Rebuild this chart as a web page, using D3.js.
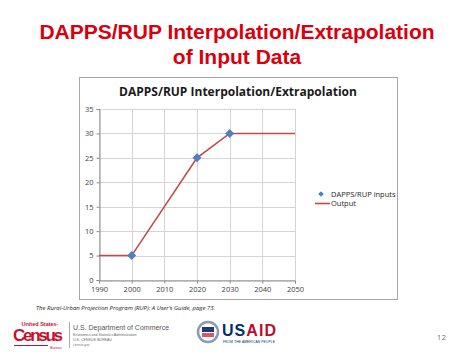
<!DOCTYPE html>
<html>
<head>
<meta charset="utf-8">
<script src="https://cdn.jsdelivr.net/npm/d3@7"></script>
<style>
  body{margin:0;background:#fff;}
  svg{display:block;}
</style>
</head>
<body>
<div id="chart"></div>
<script>
// data
const inputYears = [2000, 2020, 2030];
const inputValues = [5, 25, 30];
const outputYears = [1990, 2000, 2020, 2030, 2050];
const outputValues = [5, 5, 25, 30, 30];
const xTicks = [1990, 2000, 2010, 2020, 2030, 2040, 2050];
const yTicks = [0, 5, 10, 15, 20, 25, 30, 35];

const W = 474, H = 355;
const svg = d3.select("#chart").append("svg")
  .attr("width", W).attr("height", H);

// slide title
const title = svg.append("text")
  .attr("x", 237).attr("y", 0)
  .attr("text-anchor", "middle")
  .attr("font-family", "Liberation Sans, Arial, sans-serif")
  .attr("font-weight", "bold")
  .attr("font-size", "21px")
  .attr("fill", "#d8000e");
title.append("tspan").attr("x", 237).attr("y", 39).text("DAPPS/RUP Interpolation/Extrapolation");
title.append("tspan").attr("x", 237).attr("y", 64).text("of Input Data");

// chart frame
svg.append("rect")
  .attr("x", 79.5).attr("y", 77.5).attr("width", 318).attr("height", 222)
  .attr("fill", "#fff").attr("stroke", "#a6a6a6").attr("stroke-width", 1);

svg.append("text")
  .attr("x", 238).attr("y", 96)
  .attr("text-anchor", "middle")
  .attr("font-family", "Open Sans, sans-serif")
  .attr("font-weight", "bold")
  .attr("font-size", "12px")
  .attr("fill", "#1a1a1a")
  .text("DAPPS/RUP Interpolation/Extrapolation");

const x = d3.scaleLinear().domain([1990, 2050]).range([99, 295]);
const y = d3.scaleLinear().domain([0, 35]).range([280, 109]);

const g = svg.append("g");

// grid
g.selectAll(".hg").data(yTicks).enter().append("line")
  .attr("x1", x(1990)).attr("x2", x(2050))
  .attr("y1", d => Math.round(y(d)) + 0.5).attr("y2", d => Math.round(y(d)) + 0.5)
  .attr("stroke", "#d4d4d4");
g.selectAll(".vg").data(xTicks).enter().append("line")
  .attr("y1", y(0)).attr("y2", y(35))
  .attr("x1", d => Math.round(x(d)) + 0.5).attr("x2", d => Math.round(x(d)) + 0.5)
  .attr("stroke", "#d4d4d4");

// axes
const yAxis = g.append("g").attr("transform", `translate(${Math.round(x(1990)) + 0.5},0)`)
  .call(d3.axisLeft(y).tickValues(yTicks).tickSize(3).tickPadding(3));
const xAxis = g.append("g").attr("transform", `translate(0,${Math.round(y(0)) + 0.5})`)
  .call(d3.axisBottom(x).tickValues(xTicks).tickFormat(d3.format("d")).tickSize(3).tickPadding(3));
[xAxis, yAxis].forEach(a => {
  a.select(".domain").attr("stroke", "#8c8c8c");
  a.selectAll(".tick line").attr("stroke", "#8c8c8c");
  a.selectAll("text").attr("font-family", "Open Sans, sans-serif")
    .attr("font-size", "7.5px").attr("fill", "#404040");
});

// output line
const outData = outputYears.map((d, i) => [d, outputValues[i]]);
g.append("path").datum(outData)
  .attr("fill", "none").attr("stroke", "#be4b48").attr("stroke-width", 1.6)
  .attr("d", d3.line().x(d => x(d[0])).y(d => y(d[1])));

// input markers
const inData = inputYears.map((d, i) => [d, inputValues[i]]);
g.selectAll(".pt").data(inData).enter().append("path")
  .attr("transform", d => `translate(${x(d[0])},${y(d[1])})`)
  .attr("d", d3.symbol(d3.symbolDiamond2, 52)())
  .attr("fill", "#4f81bd");

// legend
const lg = svg.append("g").attr("font-family", "Open Sans, sans-serif")
  .attr("font-size", "7.5px").attr("fill", "#262626");
lg.append("path").attr("transform", "translate(321,194)")
  .attr("d", d3.symbol(d3.symbolDiamond2, 20)()).attr("fill", "#4f81bd");
lg.append("text").attr("x", 331).attr("y", 196.5).text("DAPPS/RUP inputs");
lg.append("line").attr("x1", 315).attr("x2", 330).attr("y1", 203.5).attr("y2", 203.5)
  .attr("stroke", "#be4b48").attr("stroke-width", 1.6);
lg.append("text").attr("x", 331).attr("y", 206).text("Output");

// source note
svg.append("text").attr("x", 36).attr("y", 310)
  .attr("font-family", "Open Sans, sans-serif").attr("font-style", "italic")
  .attr("font-size", "6px").attr("fill", "#222")
  .text("The Rural-Urban Projection Program (RUP): A User\u2019s Guide, page 73.");

// footer: census mark
const ft = svg.append("g").attr("font-family", "Liberation Sans, Arial, sans-serif");
ft.append("text").attr("x", 40).attr("y", 326).attr("text-anchor", "middle")
  .attr("font-size", "5.5px").attr("font-weight", "bold").attr("fill", "#c8102e").text("United States\u00b7");
ft.append("text").attr("x", 38).attr("y", 341).attr("text-anchor", "middle")
  .attr("font-size", "17px").attr("font-weight", "bold").attr("fill", "#c8102e")
  .attr("textLength", 50).text("Census");
ft.append("line").attr("x1", 14).attr("x2", 48).attr("y1", 345.5).attr("y2", 345.5)
  .attr("stroke", "#c8102e").attr("stroke-width", 1);
ft.append("text").attr("x", 56).attr("y", 349).attr("text-anchor", "middle")
  .attr("font-size", "3.5px").attr("fill", "#c8102e").text("Bureau");
ft.append("line").attr("x1", 69.5).attr("x2", 69.5).attr("y1", 322).attr("y2", 348)
  .attr("stroke", "#aaa");
ft.append("text").attr("x", 73).attr("y", 330).attr("font-size", "7px").attr("fill", "#555")
  .text("U.S. Department of Commerce");
ft.append("text").attr("x", 73).attr("y", 336).attr("font-size", "3.6px").attr("fill", "#666")
  .text("Economics and Statistics Administration");
ft.append("text").attr("x", 73).attr("y", 341).attr("font-size", "3.6px").attr("fill", "#666")
  .text("U.S. CENSUS BUREAU");
ft.append("text").attr("x", 73).attr("y", 345.5).attr("font-size", "3.3px").attr("fill", "#777")
  .text("census.gov");

// footer: usaid mark
ft.append("circle").attr("cx", 208).attr("cy", 332).attr("r", 10)
  .attr("fill", "#fff").attr("stroke", "#8a9bb5").attr("stroke-width", 2.5);
ft.append("rect").attr("x", 202).attr("y", 327).attr("width", 12).attr("height", 5).attr("fill", "#1f3a75");
ft.append("rect").attr("x", 202).attr("y", 333).attr("width", 12).attr("height", 4).attr("fill", "#c8102e").attr("opacity", 0.7);
ft.append("text").attr("x", 222).attr("y", 336).attr("font-size", "16px").attr("font-weight", "bold")
  .attr("textLength", 54)
  .call(t => {
    t.append("tspan").attr("fill", "#002f6c").text("US");
    t.append("tspan").attr("fill", "#ba0c2f").text("AID");
  });
ft.append("text").attr("x", 223).attr("y", 343).attr("font-size", "3.3px").attr("fill", "#002f6c")
  .attr("textLength", 52).text("FROM THE AMERICAN PEOPLE");

// page number
svg.append("text").attr("x", 446).attr("y", 340).attr("text-anchor", "end")
  .attr("font-family", "Open Sans, sans-serif").attr("font-size", "8px").attr("fill", "#777")
  .text("12");
</script>
</body>
</html>
